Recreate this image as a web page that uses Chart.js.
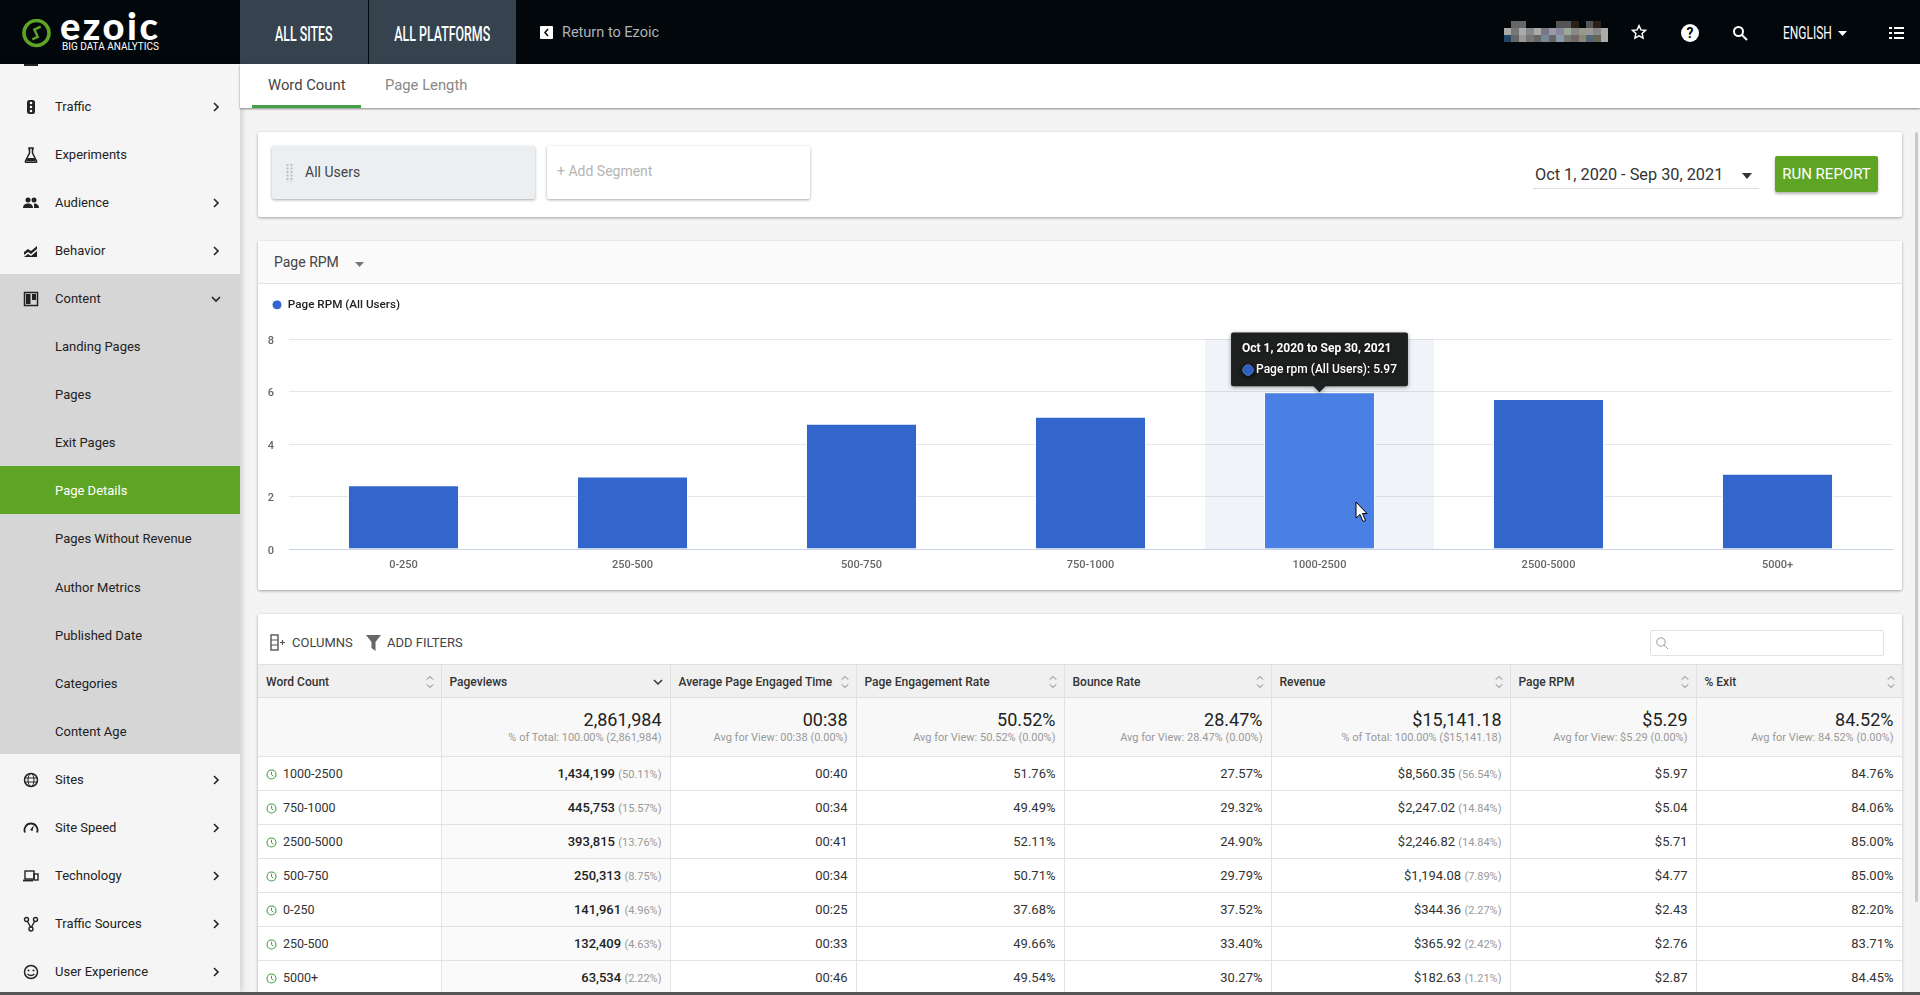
<!DOCTYPE html>
<html>
<head>
<meta charset="utf-8">
<title>Page RPM</title>
<script src="https://cdn.jsdelivr.net/npm/chart.js@4/dist/chart.umd.js"></script>
<style>
html,body{margin:0;padding:0;width:1920px;height:995px;overflow:hidden;background:#f4f4f4;font-family:Roboto,Arial,sans-serif;color:#333}
.abs,.card{position:absolute}
.card{background:#fff;box-shadow:0 1px 3px rgba(0,0,0,.35);border-radius:2px}
#top{left:0;top:0;width:1920px;height:64px;background:#02070c;color:#fff}
.nav{position:absolute;top:0;height:64px;background:#36434f;line-height:68px;font-size:21px;font-weight:500;white-space:nowrap;display:flex;justify-content:center}
.nav span{display:block;flex:none;transform:scaleX(.59)}
.narrow{display:inline-block;transform:scaleX(.63)}
#side{left:0;top:64px;width:240px;height:928px;background:#f5f5f5;box-shadow:0 0 8px rgba(0,0,0,.25);overflow:hidden}
.item{position:absolute;left:0;width:240px;height:48px;line-height:50px;font-size:13px;color:#222}
.item b{position:absolute;left:55px;font-weight:400}
.item svg.ic{position:absolute;left:23px;top:17px}
.item svg.ch{position:absolute;left:211px;top:20px}
#tabs{left:240px;top:64px;width:1680px;height:44px;background:#fff;box-shadow:0 1px 2px rgba(0,0,0,.45)}
#grid{position:absolute;left:258px;top:664px;width:1644px;border-collapse:collapse;table-layout:fixed;font-size:13px;background:#fff}
#grid th{height:30px;padding:2px 8px 0;background:#f0f0f0;border:1px solid #e0e0e0;border-left:0;text-align:left;font-size:12px;font-weight:500;color:#333;position:relative;white-space:nowrap}
#grid th svg{position:absolute;right:7px;top:10px}
#grid td{height:33px;border:1px solid #e2e2e2;border-left:0;padding:0 8px;text-align:right;color:#333;white-space:nowrap;overflow:hidden}
#grid tr.sum td{height:58px;background:#f8f8f8;font-size:18px;color:#222;line-height:21px;padding-top:0}
#grid tr.sum small{display:block;font-size:11px;color:#999;line-height:15px}
#grid td:first-child{text-align:left;font-size:12.500px}
#grid td.pv{background:#fafafa}
#grid td.pv b{font-weight:500;color:#222}
#grid td i{font-style:normal;font-size:11px;color:#999}
#grid td svg{vertical-align:-2px;margin-right:6px}
</style>
</head>
<body>

<div class="abs" id="top">
  <svg class="abs" style="left:22px;top:19px" width="30" height="30" viewBox="0 0 30 30"><circle cx="14.500" cy="14" r="12.500" fill="none" stroke="#5fa525" stroke-width="3.600"/><path d="M8 18 L14 18 L14 10 L21 10" fill="none" stroke="#5fa525" stroke-width="2.400" transform="rotate(-25 14.500 14)"/></svg>
  <div class="abs" style="left:60px;top:3px;font:900 38px Lato,Roboto,sans-serif;letter-spacing:2.500px;line-height:44px">ezoic</div>
  <div class="abs" style="left:62px;top:40px;font-size:10px;line-height:13px;white-space:nowrap">BIG DATA ANALYTICS</div>
  <div class="nav" style="left:240px;width:128px"><span>ALL SITES</span></div>
  <div class="nav" style="left:369px;width:147px"><span>ALL PLATFORMS</span></div>
  <svg class="abs" style="left:540px;top:26px" width="13" height="13" viewBox="0 0 13 13"><rect width="13" height="13" rx="1" fill="#fff"/><path d="M8 3 L5 6.500 L8 10" fill="none" stroke="#111" stroke-width="1.600"/></svg>
  <div class="abs" style="left:562px;top:24px;font-size:14.500px;color:#aeb3b8;white-space:nowrap">Return to Ezoic</div>
  <div class="abs" id="nameBlur" style="left:1504px;top:21px;width:104px;height:21px"></div>
  <svg class="abs" style="left:1631px;top:24px" width="16" height="16" viewBox="0 0 24 24"><path d="M12 2.500l2.900 6.300 6.900.8-5.100 4.700 1.400 6.800-6.100-3.400-6.100 3.400 1.400-6.800-5.100-4.700 6.900-.8z" fill="none" stroke="#fff" stroke-width="2.200"/></svg>
  <svg class="abs" style="left:1681px;top:24px" width="18" height="18" viewBox="0 0 18 18"><circle cx="9" cy="9" r="9" fill="#fff"/><text x="9" y="14" text-anchor="middle" font-size="14" font-weight="700" fill="#02070c">?</text></svg>
  <svg class="abs" style="left:1732px;top:25px" width="16" height="16" viewBox="0 0 16 16"><circle cx="6.500" cy="6.500" r="4.500" fill="none" stroke="#fff" stroke-width="2"/><path d="M10 10l5 5" stroke="#fff" stroke-width="2"/></svg>
  <div class="abs narrow" style="left:1783px;top:21px;font-size:19px;transform-origin:left;white-space:nowrap">ENGLISH</div>
  <svg class="abs" style="left:1838px;top:31px" width="9" height="5"><path d="M0 0h9L4.500 5z" fill="#fff"/></svg>
  <svg class="abs" style="left:1889px;top:26px" width="15" height="14"><path d="M5 2h10M5 7h10M5 12h10M0 2h3M0 7h3M0 12h3" stroke="#fff" stroke-width="2"/></svg>
</div>

<div class="abs" id="side"></div>

<div class="abs" id="tabs">
  <div class="abs" style="left:28px;top:12px;font-size:14.800px;color:#444;white-space:nowrap">Word Count</div>
  <div class="abs" style="left:145px;top:12px;font-size:14.800px;color:#888;white-space:nowrap">Page Length</div>
  <div class="abs" style="left:12px;top:41px;width:109px;height:3px;background:#43a047"></div>
</div>

<div class="card" style="left:258px;top:132px;width:1644px;height:85px">
  <div class="card" style="left:14px;top:14px;width:263px;height:53px;background:#eceff1">
    <svg class="abs" style="left:14px;top:18px" width="8" height="18"><path d="M1.500 0v18M5.500 0v18" stroke="#bbb" stroke-width="2" stroke-dasharray="2 1.500"/></svg>
    <div class="abs" style="left:33px;top:18px;font-size:14px;color:#444;white-space:nowrap">All Users</div>
  </div>
  <div class="card" style="left:289px;top:14px;width:263px;height:53px">
    <div class="abs" style="left:10px;top:17px;font-size:14px;color:#b5b5b5;white-space:nowrap">+ Add Segment</div>
  </div>
  <div class="abs" style="left:1277px;top:33px;font-size:16.300px;color:#333;white-space:nowrap">Oct 1, 2020 - Sep 30, 2021</div>
  <svg class="abs" style="left:1484px;top:41px" width="10" height="6"><path d="M0 0h10L5 6z" fill="#333"/></svg>
  <div class="abs" style="left:1275px;top:56px;width:226px;height:1px;background:#ddd"></div>
  <div class="abs" style="left:1517px;top:24px;width:103px;height:36px;background:#5fa525;border-radius:2px;box-shadow:0 2px 3px rgba(0,0,0,.3);color:#fff;font-size:15px;line-height:36px;text-align:center;white-space:nowrap">RUN REPORT</div>
</div>

<div class="card" style="left:258px;top:241px;width:1644px;height:349px">
  <div class="abs" style="left:0;top:0;width:1644px;height:42px;background:#fafafa;border-bottom:1px solid #e2e2e2;border-radius:2px 2px 0 0">
    <div class="abs" style="left:16px;top:13px;font-size:14px;color:#444;white-space:nowrap">Page RPM</div>
    <svg class="abs" style="left:97px;top:21px" width="9" height="5"><path d="M0 0h9L4.500 5z" fill="#777"/></svg>
  </div>
  <canvas id="rpmChart" class="abs" style="left:0;top:44px" width="1644" height="305"></canvas>
</div>

<svg class="abs" style="left:1355px;top:501px" width="14" height="22" viewBox="0 0 14 22"><path d="M1 1v16l4-3.500 3 7 2.500-1-3-7H12z" fill="#fff" stroke="#000"/></svg>

<div class="card" style="left:258px;top:614px;width:1644px;height:381px"></div>
<svg class="abs" style="left:270px;top:634px" width="16" height="17"><rect x="1" y="1" width="7" height="15" fill="none" stroke="#555" stroke-width="1.400"/><path d="M1 6h7M1 11h7M10 8.500h5M12.500 6v5" stroke="#555" stroke-width="1.200" fill="none"/></svg>
<div class="abs" style="left:292px;top:635px;font-size:13px;color:#444;white-space:nowrap">COLUMNS</div>
<svg class="abs" style="left:366px;top:635px" width="15" height="16"><path d="M0 0h15L9.500 7v9l-4-3V7z" fill="#666"/></svg>
<div class="abs" style="left:387px;top:635px;font-size:13px;color:#444;white-space:nowrap">ADD FILTERS</div>
<div class="abs" style="left:1650px;top:630px;width:232px;height:24px;border:1px solid #e2e2e2;border-radius:2px;background:#fff">
  <svg class="abs" style="left:4px;top:5px" width="14" height="14"><circle cx="6" cy="6" r="4.200" fill="none" stroke="#999"/><path d="M9 9l4 4" stroke="#999"/></svg>
</div>
<table id="grid"></table>

<div class="abs" style="left:1915px;top:132px;width:3px;height:770px;background:#c9c9c9;border-radius:2px"></div>
<div class="abs" style="left:0;top:992px;width:1920px;height:3px;background:#555"></div>

<script>
// chart data
var categories = ["0-250","250-500","500-750","750-1000","1000-2500","2500-5000","5000+"];
var pageRpm = [2.43,2.76,4.77,5.04,5.97,5.71,2.87];
var hoverIndex = 4;
var legendLabel = "Page RPM (All Users)";
var tooltipTitle = "Oct 1, 2020 to Sep 30, 2021";
var tooltipLabel = "Page rpm (All Users)";

// table data
var columnNames = ["Word Count","Pageviews","Average Page Engaged Time","Page Engagement Rate","Bounce Rate","Revenue","Page RPM","% Exit"];
var columnWidths = [183,229,186,208,207,239,186,206];
var sumValues = ["","2,861,984","00:38","50.52%","28.47%","$15,141.18","$5.29","84.52%"];
var sumNotes = ["","% of Total: 100.00% (2,861,984)","Avg for View: 00:38 (0.00%)","Avg for View: 50.52% (0.00%)","Avg for View: 28.47% (0.00%)","% of Total: 100.00% ($15,141.18)","Avg for View: $5.29 (0.00%)","Avg for View: 84.52% (0.00%)"];
var rowNames = ["1000-2500","750-1000","2500-5000","500-750","0-250","250-500","5000+"];
var rowViews = ["1,434,199","445,753","393,815","250,313","141,961","132,409","63,534"];
var rowViewPct = ["50.11%","15.57%","13.76%","8.75%","4.96%","4.63%","2.22%"];
var rowTime = ["00:40","00:34","00:41","00:34","00:25","00:33","00:46"];
var rowEngage = ["51.76%","49.49%","52.11%","50.71%","37.68%","49.66%","49.54%"];
var rowBounce = ["27.57%","29.32%","24.90%","29.79%","37.52%","33.40%","30.27%"];
var rowRevenue = ["$8,560.35","$2,247.02","$2,246.82","$1,194.08","$344.36","$365.92","$182.63"];
var rowRevenuePct = ["56.54%","14.84%","14.84%","7.89%","2.27%","2.42%","1.21%"];
var rowRpm = ["$5.97","$5.04","$5.71","$4.77","$2.43","$2.76","$2.87"];
var rowExit = ["84.76%","84.06%","85.00%","85.00%","82.20%","83.71%","84.45%"];

// sidebar
var menuItems = [
  ["Traffic",0,"traffic",1],["Experiments",1,"flask",0],["Audience",2,"people",1],["Behavior",3,"area",1],["Content",4,"board",2],
  ["Landing Pages",5],["Pages",6],["Exit Pages",7],["Page Details",8],["Pages Without Revenue",9],["Author Metrics",10],
  ["Published Date",11],["Categories",12],["Content Age",13],
  ["Sites",14,"globe",1],["Site Speed",15,"gauge",1],["Technology",16,"laptop",1],["Traffic Sources",17,"nodes",1],["User Experience",18,"smile",1]
];
var icons = {
  traffic:'<rect x="4" y="1" width="8" height="14" rx="2.500" fill="#222"/><circle cx="8" cy="4" r="1.300" fill="#fff"/><circle cx="8" cy="8" r="1.300" fill="#fff"/><circle cx="8" cy="12" r="1.300" fill="#fff"/>',
  flask:'<path d="M6 1h4v1H9.500v4l4 8q.5 1.500-1 1.500h-9q-1.500 0-1-1.500l4-8V2H6z" fill="none" stroke="#222" stroke-width="1.500"/><path d="M4.500 11h7l1.500 3.500H3z" fill="#222"/>',
  people:'<circle cx="5" cy="5" r="2.500" fill="#222"/><circle cx="11" cy="5" r="2.500" fill="#222"/><path d="M0 13q0-4.500 5-4.500T10 13zM11 8.500q5 0 5 4.500h-5z" fill="#222"/>',
  area:'<path d="M1 14V9l4-3 3 2 6-5v3l-6 5-3-2-4 3zM1 14l4-3 3 2 6-5v6z" fill="#222"/>',
  board:'<rect x="1.500" y="1.500" width="13" height="13" fill="none" stroke="#222" stroke-width="1.500"/><rect x="3" y="3" width="4.500" height="10" fill="#222"/><rect x="9" y="3" width="4" height="6" fill="#222"/>',
  globe:'<circle cx="8" cy="8" r="6.500" fill="none" stroke="#222" stroke-width="1.500"/><ellipse cx="8" cy="8" rx="3" ry="6.500" fill="none" stroke="#222"/><path d="M1.500 6h13M1.500 10h13" stroke="#222"/>',
  gauge:'<path d="M2 12.500a6.500 6.500 0 1 1 12 0" fill="none" stroke="#222" stroke-width="1.800"/><path d="M7 10l4-5-1.500 6z" fill="#222"/>',
  laptop:'<rect x="2" y="3" width="9" height="8" fill="none" stroke="#222" stroke-width="1.400"/><rect x="11" y="6" width="4" height="6" fill="none" stroke="#222" stroke-width="1.400"/><path d="M0 12.500h10" stroke="#222" stroke-width="1.800"/>',
  nodes:'<circle cx="3.500" cy="3.500" r="2" fill="none" stroke="#222" stroke-width="1.400"/><circle cx="12.500" cy="3.500" r="2" fill="none" stroke="#222" stroke-width="1.400"/><circle cx="8" cy="13" r="2" fill="none" stroke="#222" stroke-width="1.400"/><path d="M4.500 5.500L7.500 11M11.500 5.500L8.500 11" stroke="#222" stroke-width="1.400"/>',
  smile:'<circle cx="8" cy="8" r="6.500" fill="none" stroke="#222" stroke-width="1.500"/><circle cx="5.500" cy="6.500" r="1" fill="#222"/><circle cx="10.500" cy="6.500" r="1" fill="#222"/><path d="M4.500 10q3.500 3 7 0" fill="none" stroke="#222" stroke-width="1.300"/>'
};

var sideHtml = '<div class="abs" style="left:0;top:210px;width:240px;height:480px;background:#d6d6d6"></div>';
sideHtml += '<div class="abs" style="left:24px;top:0;width:14px;height:2px;background:#222"></div>';
for (var i = 0; i < menuItems.length; i++) {
  var m = menuItems[i];
  var isActive = m[0] == "Page Details";
  var h = '<div class="item" style="top:' + (18 + m[1] * 48.05) + 'px;' + (isActive ? 'background:#5fa525;color:#fff;' : '') + '">';
  if (m[2]) h += '<svg class="ic" width="16" height="16" viewBox="0 0 16 16">' + icons[m[2]] + '</svg>';
  h += '<b>' + m[0] + '</b>';
  if (m[3] == 1) h += '<svg class="ch" width="10" height="10"><path d="M3 1l4 4-4 4" fill="none" stroke="#222" stroke-width="1.600"/></svg>';
  if (m[3] == 2) h += '<svg class="ch" width="10" height="10"><path d="M1 3l4 4 4-4" fill="none" stroke="#222" stroke-width="1.600"/></svg>';
  sideHtml += h + '</div>';
}
document.getElementById('side').innerHTML = sideHtml;

// blurred account name
var blurRows = [
  ["#02070c","#666","#666","#02070c","#02070c","#02070c","#02070c","#555","#555","#2a2018","#02070c","#555","#2a2018","#02070c"],
  ["#aaa","#777","#aaa","#888","#aaa","#778","#99a","#889","#9a9","#888","#998","#999","#888","#aaa"],
  ["#246","#666","#999","#777","#666","#789","#666","#89a","#777","#766","#887","#567","#665","#aaa"]
];
var blurHtml = '';
for (var r = 0; r < blurRows.length; r++) {
  for (var c = 0; c < blurRows[r].length; c++) {
    blurHtml += '<div class="abs" style="left:' + (c * 7.45) + 'px;top:' + (r * 7) + 'px;width:7.5px;height:7px;background:' + blurRows[r][c] + '"></div>';
  }
}
document.getElementById('nameBlur').innerHTML = blurHtml;

// table
var sortBoth = '<svg width="8" height="14"><path d="M1 4.500L4 1.500 7 4.500M1 9.500L4 12.500 7 9.500" fill="none" stroke="#777"/></svg>';
var sortDown = '<svg width="10" height="14"><path d="M1 5l4 4 4-4" fill="none" stroke="#333" stroke-width="1.500"/></svg>';
var clock = '<svg width="11" height="11" viewBox="0 0 11 11"><circle cx="5.500" cy="5.500" r="4.500" fill="none" stroke="#43a047" stroke-width="1.100"/><path d="M5.500 2.800v2.900l1.800 1.500" fill="none" stroke="#43a047"/></svg>';
var t = '<colgroup>';
columnWidths.forEach(function (w) { t += '<col style="width:' + w + 'px">'; });
t += '</colgroup><tr>';
columnNames.forEach(function (n, i) { t += '<th>' + n + (i == 1 ? sortDown : sortBoth) + '</th>'; });
t += '</tr><tr class="sum">';
sumValues.forEach(function (v, i) { t += '<td>' + v + '<small>' + sumNotes[i] + '</small></td>'; });
t += '</tr>';
rowNames.forEach(function (n, i) {
  t += '<tr><td>' + clock + n + '</td>';
  t += '<td class="pv"><b>' + rowViews[i] + '</b> <i>(' + rowViewPct[i] + ')</i></td>';
  t += '<td>' + rowTime[i] + '</td><td>' + rowEngage[i] + '</td><td>' + rowBounce[i] + '</td>';
  t += '<td>' + rowRevenue[i] + ' <i>(' + rowRevenuePct[i] + ')</i></td>';
  t += '<td>' + rowRpm[i] + '</td><td>' + rowExit[i] + '</td></tr>';
});
document.getElementById('grid').innerHTML = t;

// light band behind the hovered column
var hoverBand = {
  id: 'hoverBand',
  beforeDatasetsDraw: function (chart) {
    var x = chart.scales.x, area = chart.chartArea;
    var step = x.getPixelForTick(1) - x.getPixelForTick(0);
    var c = chart.ctx;
    c.save();
    c.fillStyle = 'rgba(70,100,160,0.08)';
    c.fillRect(x.getPixelForTick(hoverIndex) - step / 2, area.top, step, area.bottom - area.top);
    c.restore();
  }
};
var legendSpace = {
  id: 'legendSpace',
  beforeInit: function (chart) {
    var fit = chart.legend.fit;
    chart.legend.fit = function () { fit.call(this); this.height = 54; };
  }
};
var tooltipShadow = {
  id: 'tooltipShadow',
  beforeTooltipDraw: function (chart) {
    chart.ctx.save();
    chart.ctx.shadowColor = 'rgba(0,0,0,0.4)';
    chart.ctx.shadowBlur = 4;
    chart.ctx.shadowOffsetY = 1;
  },
  afterTooltipDraw: function (chart) { chart.ctx.restore(); }
};

var tickFont = {family: 'Roboto', size: 11, weight: '500'};
var ctx = document.getElementById('rpmChart').getContext('2d');
var rpmChart = new Chart(ctx, {
  type: 'bar',
  data: {
    labels: categories,
    datasets: [{
      label: legendLabel,
      data: pageRpm,
      backgroundColor: function (c) { return c.dataIndex === hoverIndex ? '#4a7fe3' : '#3266cc'; },
      borderColor: '#fff',
      borderWidth: 1,
      categoryPercentage: 1,
      barPercentage: 0.485
    }]
  },
  plugins: [legendSpace, hoverBand, tooltipShadow],
  options: {
    responsive: false,
    animation: false,
    events: [],
    layout: {padding: {right: 10}},
    scales: {
      x: {
        grid: {display: false},
        border: {color: '#c5d3e8'},
        ticks: {color: '#666', font: tickFont, padding: 2, maxRotation: 0},
        afterFit: function (s) { s.height = 41; }
      },
      y: {
        min: 0, max: 8,
        grid: {color: '#e6e6e6', drawTicks: false},
        border: {display: false},
        ticks: {stepSize: 2, color: '#666', font: tickFont, padding: 15, labelOffset: 2},
        afterFit: function (s) { s.width = 31; }
      }
    },
    plugins: {
      legend: {
        position: 'top',
        align: 'start',
        labels: {
          usePointStyle: true, pointStyle: 'circle', pointStyleWidth: 10, boxHeight: 7,
          padding: 14, color: '#222',
          font: {family: 'Roboto', size: 11.7, weight: '500'}
        }
      },
      tooltip: {
        enabled: true,
        backgroundColor: '#1f2020',
        titleColor: '#fff',
        bodyColor: '#fff',
        titleFont: {family: 'Roboto', size: 12, weight: '700'},
        bodyFont: {family: 'Roboto', size: 12, weight: '500'},
        titleMarginBottom: 7,
        padding: {x: 11, y: 9},
        cornerRadius: 2,
        caretSize: 6,
        caretPadding: 0,
        yAlign: 'bottom',
        xAlign: 'center',
        usePointStyle: true,
        boxWidth: 12,
        boxHeight: 10,
        displayColors: true,
        callbacks: {
          title: function () { return tooltipTitle; },
          label: function (item) { return tooltipLabel + ': ' + item.formattedValue; },
          labelPointStyle: function () { return {pointStyle: 'circle', rotation: 0}; },
          labelColor: function () { return {backgroundColor: '#3266cc', borderColor: '#3266cc', borderWidth: 0}; }
        }
      }
    }
  }
});
rpmChart.tooltip.setActiveElements([{datasetIndex: 0, index: hoverIndex}], {x: 0, y: 0});
rpmChart.update();
</script>
</body>
</html>
